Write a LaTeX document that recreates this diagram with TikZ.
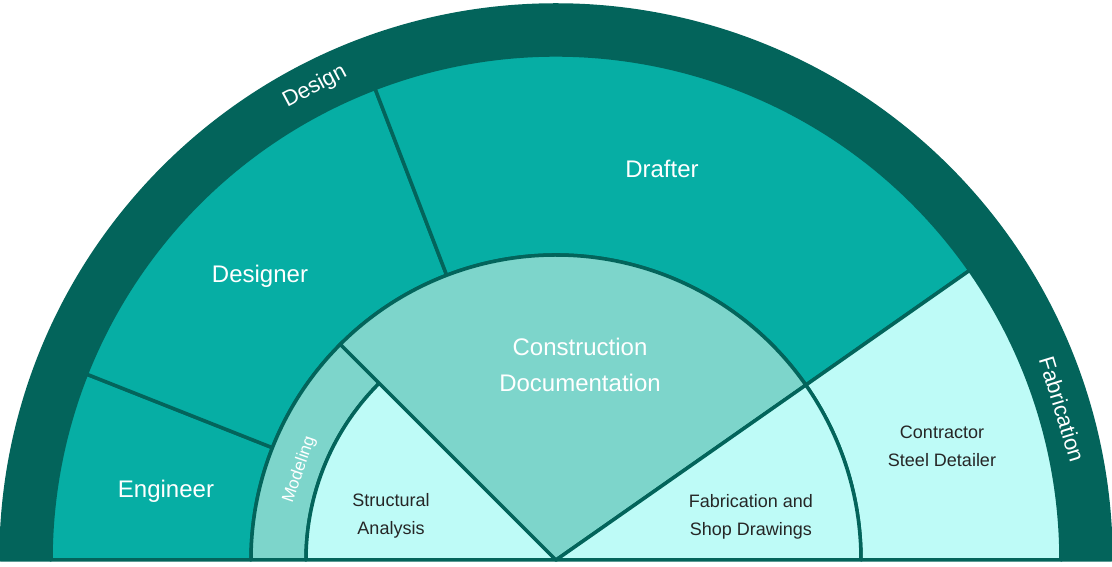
\documentclass[tikz,border=0pt]{standalone}
\usepackage{fontspec}
\setmainfont{Liberation Sans}
\begin{document}
\begin{tikzpicture}[x=1pt,y=1pt,
  seg/.style={draw=dk,line width=3.5pt,line join=round},
  wt/.style={text=white,font=\fontsize{22}{28}\selectfont,align=center},
  dt/.style={text=black!85,font=\fontsize{18}{28}\selectfont,align=center}]
\definecolor{dk}{HTML}{03645B}
\definecolor{md}{HTML}{06AEA4}
\definecolor{lm}{HTML}{7DD5CB}
\definecolor{lt}{HTML}{BEFBF7}
\useasboundingbox (0,0) rectangle (1112,567);
\begin{scope}[shift={(556,7)}]
\newcommand\annseg[5]{\filldraw[seg,fill=#5] (#1:#3) arc[start angle=#1,end angle=#2,radius=#3] -- (#2:#4) arc[start angle=#2,end angle=#1,radius=#4] -- cycle;}
% outer band
\annseg{35}{180}{505}{555}{dk}
\annseg{0}{35}{505}{555}{dk}
% middle ring
\annseg{158.4}{180}{305}{505}{md}
\annseg{111}{158.4}{305}{505}{md}
\annseg{35}{111}{305}{505}{md}
\annseg{0}{35}{305}{505}{lt}
% inner
\annseg{135}{180}{250}{305}{lm}
\filldraw[seg,fill=lt] (0,0) -- (135:250) arc[start angle=135,end angle=180,radius=250] -- cycle;
\filldraw[seg,fill=lm] (0,0) -- (35:305) arc[start angle=35,end angle=135,radius=305] -- cycle;
\filldraw[seg,fill=lt] (0,0) -- (0:305) arc[start angle=0,end angle=35,radius=305] -- cycle;
% labels
\node[wt,rotate=28] (l1) at (117:531) {Design};
\node[wt,rotate=-73] (l2) at (16.6:528) {Fabrication};
\node[text=white,font=\fontsize{17}{20}\selectfont,rotate=71] (l3) at (160.6:272) {Modeling};
\node[wt,font=\fontsize{24}{28}\selectfont] (l4) at (106,391) {Drafter};
\node[wt,font=\fontsize{24}{28}\selectfont] (l5) at (-296,284) {Designer};
\node[wt,font=\fontsize{24}{28}\selectfont] (l6) at (-390,69) {Engineer};
\node[wt,font=\fontsize{24}{36}\selectfont] (l7) at (24,195) {Construction\\Documentation};
\node[dt] (l8) at (-165,44) {Structural\\Analysis};
\node[dt] (l9) at (195,43) {Fabrication and\\Shop Drawings};
\node[dt] (l10) at (386,114) {Contractor\\Steel Detailer};
\end{scope}
\end{tikzpicture}
\end{document}
